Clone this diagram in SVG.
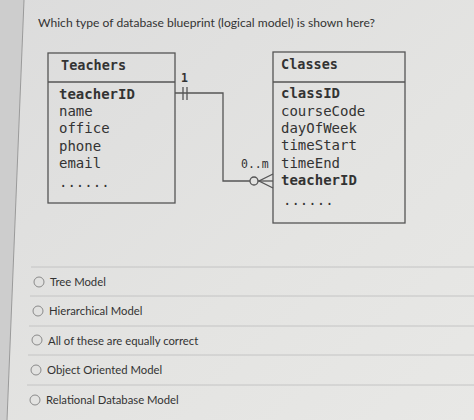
<svg xmlns="http://www.w3.org/2000/svg" width="474" height="420" viewBox="0 0 474 420">
<defs>
<linearGradient id="bg" x1="0" y1="0" x2="1" y2="1">
<stop offset="0" stop-color="#dcdcdc"/>
<stop offset="0.6" stop-color="#e4e4e2"/>
<stop offset="1" stop-color="#e8e8e6"/>
</linearGradient>
<style>
.q{font-family:Lato,"Liberation Sans",sans-serif;font-size:12.1px;fill:#333}
.opt{font-family:Lato,"Liberation Sans",sans-serif;font-size:11.3px;fill:#333}
.hd{font-family:"DejaVu Sans Mono",monospace;font-size:13.5px;font-weight:bold;fill:#333}
.at{font-family:"DejaVu Sans Mono",monospace;font-size:14px;fill:#333}
.pk{font-weight:bold}
.box{fill:none;stroke:#555;stroke-width:1.3}
.ln{fill:none;stroke:#555;stroke-width:1.3}
.sep{stroke:#c4c4c4;stroke-width:1}
.radio{fill:none;stroke:#8a8a8a;stroke-width:1}
.lbl{font-family:"DejaVu Sans Mono",monospace;font-size:11.5px;fill:#333}
</style>
</defs>
<rect width="474" height="420" fill="url(#bg)"/>
<polygon points="0,0 24,0 7,420 0,420" fill="#cdcdcd"/>
<line x1="24" y1="0" x2="7" y2="420" stroke="#9a9a9a" stroke-width="1"/>
<text class="q" x="38" y="27">Which type of database blueprint (logical model) is shown here?</text>
<g id="teachers">
<rect class="box" x="48" y="53" width="127" height="150"/>
<line class="box" x1="48" y1="82" x2="175" y2="82"/>
<text class="hd" x="61" y="70">Teachers</text>
<text class="at pk" x="59" y="99">teacherID</text>
<text class="at" x="59" y="116">name</text>
<text class="at" x="59" y="133">office</text>
<text class="at" x="59" y="151">phone</text>
<text class="at" x="59" y="168">email</text>
<text class="at" x="59" y="187">......</text>
</g>
<g id="classes">
<rect class="box" x="273" y="52" width="132" height="171"/>
<line class="box" x1="273" y1="82" x2="405" y2="82"/>
<text class="hd" x="281" y="69">Classes</text>
<text class="at pk" x="281" y="98">classID</text>
<text class="at" x="281" y="116">courseCode</text>
<text class="at" x="281" y="133">dayOfWeek</text>
<text class="at" x="281" y="150">timeStart</text>
<text class="at" x="281" y="168">timeEnd</text>
<text class="at pk" x="281" y="185">teacherID</text>
<text class="at" x="283" y="205">......</text>
</g>
<g id="connectors">
<polyline class="ln" points="175,93 223,93 223,181 250,181"/>
<line class="ln" x1="183" y1="87" x2="183" y2="100"/>
<line class="ln" x1="187" y1="87" x2="187" y2="100"/>
<text class="lbl" x="181" y="82" font-weight="bold">1</text>
<circle class="ln" cx="254" cy="181" r="4"/>
<polyline class="ln" points="273,174 259,181 273,188"/>
<line class="ln" x1="258" y1="181" x2="273" y2="181"/>
<text class="lbl" x="241" y="168">0..m</text>
</g>
<g id="options">
<line class="sep" x1="31" y1="267" x2="474" y2="267"/>
<line class="sep" x1="30" y1="296" x2="474" y2="296"/>
<line class="sep" x1="29" y1="326" x2="474" y2="326"/>
<line class="sep" x1="28" y1="355" x2="474" y2="355"/>
<line class="sep" x1="27" y1="385" x2="474" y2="385"/>
<circle class="radio" cx="39" cy="282" r="5"/>
<text class="opt" x="50" y="286">Tree Model</text>
<circle class="radio" cx="38" cy="311" r="5"/>
<text class="opt" x="49" y="315">Hierarchical Model</text>
<circle class="radio" cx="37" cy="340" r="5"/>
<text class="opt" x="48" y="345">All of these are equally correct</text>
<circle class="radio" cx="36" cy="370" r="5"/>
<text class="opt" x="47" y="374">Object Oriented Model</text>
<circle class="radio" cx="35" cy="400" r="5"/>
<text class="opt" x="46" y="404">Relational Database Model</text>
</g>
</svg>
